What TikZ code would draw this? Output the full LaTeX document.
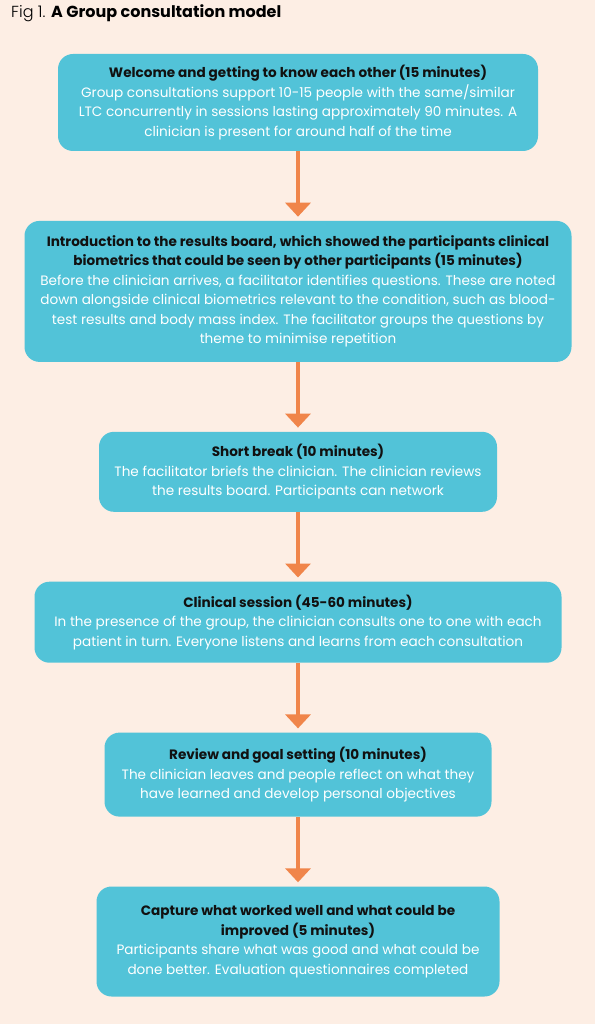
\documentclass[tikz,border=0pt]{standalone}
\usepackage{fontspec}
\setmainfont{Poppins}
\newfontfamily\lightfont{Poppins Light}
\usepackage{xcolor}
\usetikzlibrary{arrows.meta, positioning}
\definecolor{pagepeach}{RGB}{253, 238, 228}
\definecolor{boxcyan}{RGB}{82, 195, 216}
\definecolor{arroworange}{RGB}{240, 133, 74}
\definecolor{headblack}{RGB}{17, 17, 17}
\newcommand{\hd}[1]{{\bfseries\color{headblack}#1}}

\begin{document}
\begin{tikzpicture}[
    node distance=69.5pt,
    stagebox/.style={fill=boxcyan, rounded corners=15pt, align=center, text=white, inner sep=0pt,
        font=\fontsize{13.6}{19.5}\selectfont},
    arrow/.style={-{Triangle[width=25pt, length=14pt]}, line width=4pt, draw=arroworange, shorten >=4pt}
]

% Page and title
\fill[pagepeach] (0,0) rectangle (595pt,-1024pt);
\useasboundingbox (0,0) rectangle (595pt,-1024pt);
\node[anchor=base west, inner sep=0pt, font=\fontsize{16}{20}\selectfont] (title) at (11pt,-18pt)
    {{\lightfont Fig 1.} \textbf{A Group consultation model}};

% Stages
\node[stagebox, minimum width=480pt, minimum height=97pt] (welcome) at (298pt,-102.5pt)
    {\hd{Welcome and getting to know each other (15 minutes)}\\
     Group consultations support 10-15 people with the same/similar\\
     LTC concurrently in sessions lasting approximately 90 minutes. A\\
     clinician is present for around half of the time};
\node[stagebox, minimum width=547pt, minimum height=141pt, below=of welcome] (intro)
    {\hd{Introduction to the results board, which showed the participants clinical}\\
     \hd{biometrics that could be seen by other participants (15 minutes)}\\
     Before the clinician arrives, a facilitator identifies questions. These are noted\\
     down alongside clinical biometrics relevant to the condition, such as blood-\\
     test results and body mass index. The facilitator groups the questions by\\
     theme to minimise repetition};
\node[stagebox, minimum width=398pt, minimum height=80pt, below=of intro] (break)
    {\hd{Short break (10 minutes)}\\
     The facilitator briefs the clinician. The clinician reviews\\
     the results board. Participants can network};
\node[stagebox, minimum width=527pt, minimum height=81pt, below=of break] (clinical)
    {\hd{Clinical session (45-60 minutes)}\\
     In the presence of the group, the clinician consults one to one with each\\
     patient in turn. Everyone listens and learns from each consultation};
\node[stagebox, minimum width=387pt, minimum height=84pt, below=of clinical] (review)
    {\hd{Review and goal setting (10 minutes)}\\
     The clinician leaves and people reflect on what they\\
     have learned and develop personal objectives};
\node[stagebox, minimum width=403pt, minimum height=110pt, below=of review] (capture)
    {\hd{Capture what worked well and what could be}\\
     \hd{improved (5 minutes)}\\
     Participants share what was good and what could be\\
     done better. Evaluation questionnaires completed};

% Arrows
\draw[arrow] (welcome) -- (intro);
\draw[arrow] (intro) -- (break);
\draw[arrow] (break) -- (clinical);
\draw[arrow] (clinical) -- (review);
\draw[arrow] (review) -- (capture);

\end{tikzpicture}
\end{document}
